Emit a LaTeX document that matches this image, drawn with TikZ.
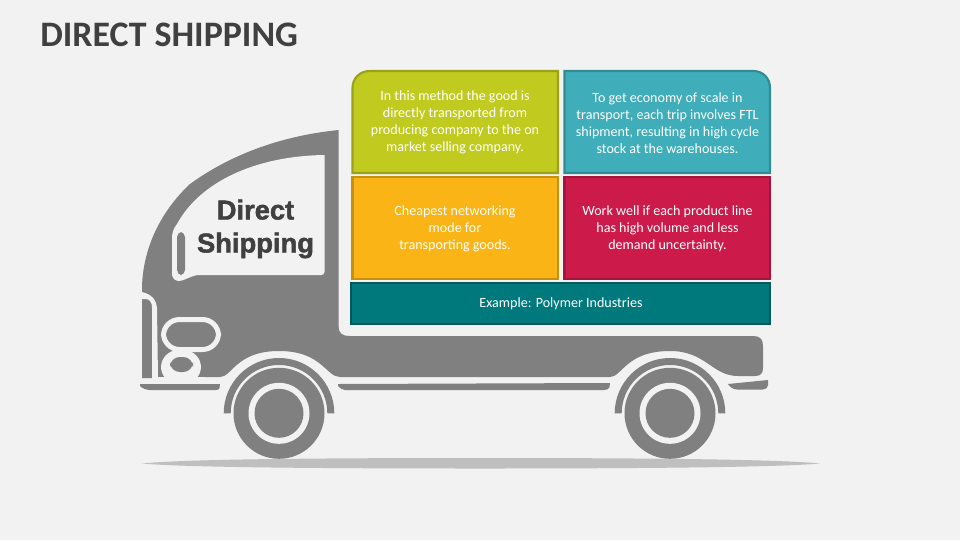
\documentclass[tikz,border=0pt]{standalone}
\usepackage{fontspec}
\setmainfont{Carlito}
\newfontfamily\arialfam{Liberation Sans}[BoldFeatures={FakeBold=1.6}]
\definecolor{bg}{HTML}{F2F2F2}
\definecolor{truck}{HTML}{808080}
\definecolor{ink}{HTML}{404040}
\definecolor{gfill}{HTML}{C1CB1F}\definecolor{gline}{HTML}{9AA217}
\definecolor{tfill}{HTML}{40AEBA}\definecolor{tline}{HTML}{338B95}
\definecolor{ofill}{HTML}{FBB415}\definecolor{oline}{HTML}{C8900F}
\definecolor{rfill}{HTML}{CC1A4A}\definecolor{rline}{HTML}{A3153B}
\definecolor{dfill}{HTML}{00797D}\definecolor{dline}{HTML}{00585C}
\tikzset{
  x=0.75pt,y=-0.75pt,
  panel/.style={line width=1.6pt,line join=miter},
  paneltext/.style={text=white,align=center,font=\fontsize{10.55}{12.75}\selectfont,inner sep=0pt},
  gray part/.style={fill=truck,draw=none},
  gap part/.style={fill=bg,draw=none},
}
\begin{document}
\begin{tikzpicture}
\useasboundingbox (0,0) rectangle (960,540);
\fill[bg] (0,0) rectangle (960,540);
\node[anchor=west,inner sep=0pt,text=ink,font=\fontsize{26.9}{30}\selectfont\bfseries] (title) at (40,34.7) {DIRECT SHIPPING};
% shadow
\fill[fill=black!25] (142,463.5) .. controls (180,459.5) and (300,458) .. (480,458) .. controls (660,458) and (780,459.5) .. (820,463.5) .. controls (780,467) and (660,468.5) .. (480,468.5) .. controls (300,468.5) and (180,467) .. (142,463.5) -- cycle;
% truck body
\path[gray part] (338.5,130)
  .. controls (280,136) and (230,155) .. (190,184)
  .. controls (160,212) and (142,250) .. (142,290)
  -- (142,378) -- (152,378) -- (158,377) -- (220,377)
  .. controls (232,377) and (236,351) .. (279,351)
  .. controls (322,351) and (326,377) .. (340,377)
  -- (610,377)
  .. controls (622,377) and (626,351) .. (670,351)
  .. controls (706,351) and (712,376) .. (738,376)
  -- (755,376) .. controls (761,376) and (763,373) .. (763,368)
  -- (763,346) .. controls (763,339) and (760,336) .. (753,336)
  -- (350,336) .. controls (342,336) and (338.5,333) .. (338.5,326) -- cycle;
% front gap
\path[gap part] (142,292) .. controls (150,294) and (156,298) .. (157,308) -- (158,378) -- (152,378) -- (152,308)
  .. controls (152,301) and (149,299) .. (145,299) -- (142,299) -- cycle;
% window
\path[gap part] (324.5,155) -- (324.5,272) .. controls (324.5,274) and (323,275) .. (321,275)
  -- (198,275) .. controls (190,276) and (184,281) .. (179,281)
  .. controls (175,281) and (172,278) .. (172,274) -- (172,238)
  .. controls (172,232) and (174,228) .. (177,224)
  .. controls (200,182) and (255,156) .. (324.5,155) -- cycle;
\path[gray part,rounded corners=3.8] (177,232) rectangle (185,275);
% headlights
\path[fill=bg,rounded corners=13] (161,350) rectangle (201,384);
\path[draw=bg,line width=3.75pt,fill=truck,rounded corners=12] (163.5,319.5) rectangle (218.5,349.5);
\path[gray part,rounded corners=7.4] (170,357) rectangle (193,372);
\fill[bg] (155,377) rectangle (205,384);
% bumpers
\path[gray part] (140,384) -- (220,384) -- (219.5,388) .. controls (219,389.5) and (218,390) .. (216,390)
  -- (150,390) .. controls (146,390) and (142,388) .. (140,386) -- cycle;
\path[gray part] (338,384) -- (610,383) -- (609.5,387) .. controls (609,389) and (607,390) .. (604,390)
  -- (345,390) .. controls (342,390) and (340,388) .. (338,386) -- cycle;
\path[gray part] (728,384) -- (768,380) -- (768,385) .. controls (768,387.5) and (766,389.5) .. (763,389.5)
  -- (737,389.5) .. controls (733,389.5) and (730,387) .. (728,384) -- cycle;
% wheels
\foreach \cx in {279,670}{
  \path[gray part] (\cx-55.3,413.3) arc[start angle=180,end angle=0,x radius=55.3,y radius=-55.3]
    -- (\cx+48.3,413.3) arc[start angle=0,end angle=180,x radius=48.3,y radius=-48.3] -- cycle;
  \fill[truck] (\cx,413.3) circle[radius=45.5];
  \fill[bg] (\cx,413.3) circle[radius=30.5];
  \fill[truck] (\cx,413.3) circle[radius=24.5];
}
% panels
\path[panel,fill=gfill,draw=gline] (352.5,173) -- (352.5,88) .. controls (352.5,78) and (360,71) .. (370,71) -- (558,71) -- (558,173) -- cycle;
\path[panel,fill=tfill,draw=tline] (564.5,173) -- (564.5,71) -- (753,71) .. controls (763,71) and (770,78) .. (770,88) -- (770,173) -- cycle;
\path[panel,fill=ofill,draw=oline] (352.5,177) rectangle (558,279);
\path[panel,fill=rfill,draw=rline] (564.5,177) rectangle (770,279);
\path[panel,fill=dfill,draw=dline] (351,283) rectangle (770,324);
\node[paneltext] (green) at (455,122.7) {In this method the good is\\directly transported from\\producing company to the on\\market selling company.};
\node[paneltext] (teal) at (667.5,122.7) {To get economy of scale in\\transport, each trip involves FTL\\shipment, resulting in high cycle\\stock at the warehouses.};
\node[paneltext] (orange) at (455,228.7) {Cheapest networking\\mode for\\transporting goods.};
\node[paneltext] (red) at (667.5,228.7) {Work well if each product line\\has high volume and less\\demand uncertainty.};
\node[paneltext] (example) at (561,304.2) {Example: Polymer Industries};
\node[inner sep=0pt,align=center,text=ink,font=\fontsize{20.5}{24.75}\selectfont\arialfam\bfseries] (cab) at (255.5,229) {Direct\\Shipping};
\end{tikzpicture}
\end{document}
